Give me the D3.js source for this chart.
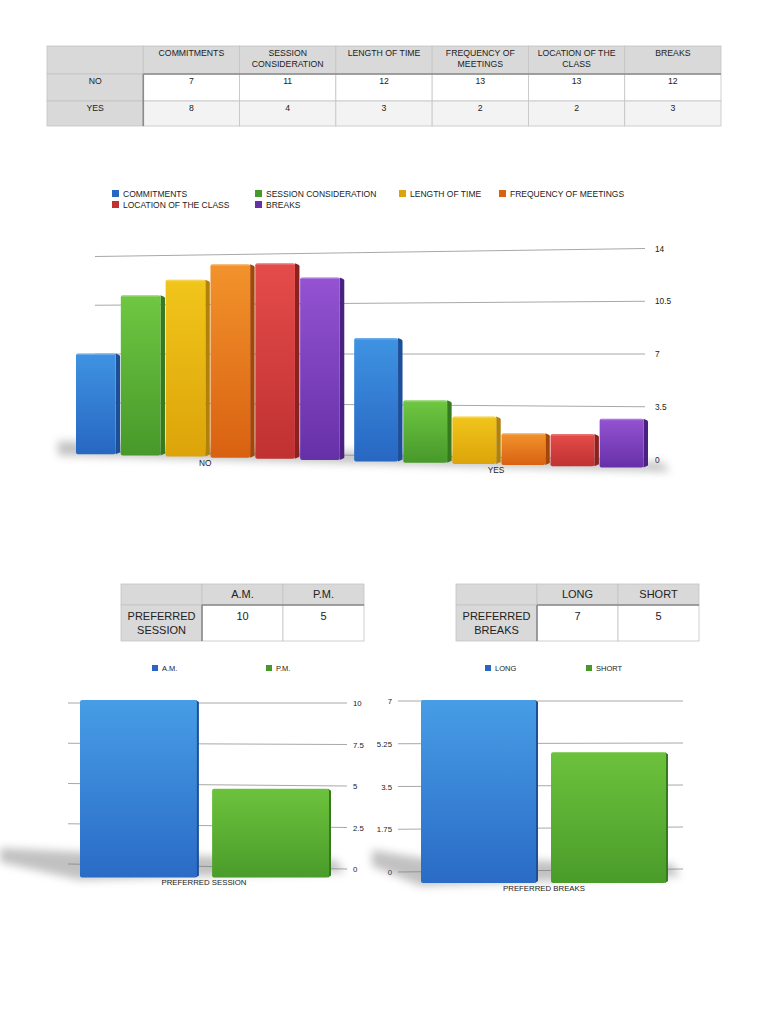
<!DOCTYPE html>
<html><head><meta charset="utf-8">
<script src="https://cdn.jsdelivr.net/npm/d3@7"></script>
<style>
body{margin:0;background:#fff}
svg{display:block}
text{font-family:"Liberation Sans",Arial,sans-serif;fill:#222}
</style>
</head><body>
<svg id="c" width="768" height="1024"></svg>
<script>
// ---------------- DATA ----------------
const groups = ["NO", "YES"];
const series = ["COMMITMENTS", "SESSION CONSIDERATION", "LENGTH OF TIME", "FREQUENCY OF MEETINGS", "LOCATION OF THE CLASS", "BREAKS"];
const tableHeaderLines = [["COMMITMENTS"], ["SESSION", "CONSIDERATION"], ["LENGTH OF TIME"], ["FREQUENCY OF", "MEETINGS"], ["LOCATION OF THE", "CLASS"], ["BREAKS"]];
const noValues = [7, 11, 12, 13, 13, 12];
const yesValues = [8, 4, 3, 2, 2, 3];
const mainTicks = [0, 3.5, 7, 10.5, 14];

const sessionCats = ["A.M.", "P.M."];
const sessionValues = [10, 5];
const sessionTicks = [0, 2.5, 5, 7.5, 10];
const sessionRowLabel = ["PREFERRED", "SESSION"];
const sessionAxisLabel = "PREFERRED SESSION";

const breakCats = ["LONG", "SHORT"];
const breakValues = [7, 5];
const breakTicks = [0, 1.75, 3.5, 5.25, 7];
const breakRowLabel = ["PREFERRED", "BREAKS"];
const breakAxisLabel = "PREFERRED BREAKS";

// ---------------- STYLE ----------------
const palette = [
  {top: "#3f93e2", bot: "#2767c2", side: "#1d4f98"},
  {top: "#6fc742", bot: "#47992a", side: "#357a1e"},
  {top: "#f1c51b", bot: "#dca40a", side: "#b08207"},
  {top: "#f2932c", bot: "#d96111", side: "#a4460a"},
  {top: "#e44c4a", bot: "#c03131", side: "#8c2121"},
  {top: "#9453d2", bot: "#6630a8", side: "#4a2180"}
];

const svg = d3.select("#c");
const defs = svg.append("defs");
palette.forEach((p, i) => {
  const g = defs.append("linearGradient").attr("id", "g" + i)
    .attr("x1", 0).attr("y1", 0).attr("x2", 0).attr("y2", 1);
  g.append("stop").attr("offset", "0%").attr("stop-color", p.top);
  g.append("stop").attr("offset", "100%").attr("stop-color", p.bot);
});
defs.append("filter").attr("id", "blur").attr("x", "-20%").attr("y", "-200%").attr("width", "140%").attr("height", "500%")
  .append("feGaussianBlur").attr("stdDeviation", 4);

// ---------------- TOP TABLE ----------------
(function () {
  const colX = d3.scaleBand().domain(d3.range(7)).range([47, 721]);
  const rowsY = [46, 74, 101, 126];
  const t = svg.append("g");
  for (let r = 0; r < 3; r++) {
    for (let c = 0; c < 7; c++) {
      let fill = "#ffffff";
      if (r === 0 || c === 0) fill = "#d9d9d9";
      else if (r === 2) fill = "#f3f3f3";
      t.append("rect").attr("x", colX(c)).attr("y", rowsY[r])
        .attr("width", colX.bandwidth()).attr("height", rowsY[r + 1] - rowsY[r])
        .attr("fill", fill).attr("stroke", "#c4c4c4").attr("stroke-width", 0.8);
    }
  }
  t.append("line").attr("x1", colX(1)).attr("x2", 721).attr("y1", 74).attr("y2", 74).attr("stroke", "#8a8a8a").attr("stroke-width", 1.6);
  t.append("line").attr("x1", colX(1)).attr("x2", colX(1)).attr("y1", 74).attr("y2", 126).attr("stroke", "#8a8a8a").attr("stroke-width", 1.6);
  tableHeaderLines.forEach((lines, i) => {
    lines.forEach((ln, j) => {
      t.append("text").attr("x", colX(i + 1) + colX.bandwidth() / 2).attr("y", 56 + j * 11)
        .attr("text-anchor", "middle").attr("font-size", 8.7).text(ln);
    });
  });
  [["NO", noValues], ["YES", yesValues]].forEach(([lab, vals], r) => {
    const y = r === 0 ? 84 : 111;
    t.append("text").attr("x", colX(0) + colX.bandwidth() / 2).attr("y", y).attr("text-anchor", "middle").attr("font-size", 8.7).text(lab);
    vals.forEach((v, i) => {
      t.append("text").attr("x", colX(i + 1) + colX.bandwidth() / 2).attr("y", y)
        .attr("text-anchor", "middle").attr("font-size", 8.7).text(v);
    });
  });
})();

// ---------------- MAIN LEGEND ----------------
(function () {
  const legCols = [112, 255, 399, 499];
  const lg = svg.append("g").selectAll("g").data(series).join("g")
    .attr("transform", (d, i) => `translate(${legCols[i % 4]},${i < 4 ? 190 : 201})`);
  lg.append("rect").attr("width", 7).attr("height", 7).attr("fill", (d, i) => palette[i].bot);
  lg.append("text").attr("x", 11).attr("y", 7).attr("font-size", 8.5).text(d => d);
})();

// ---------------- MAIN CHART ----------------
(function () {
  const g = svg.append("g");
  const gridL = d3.scaleLinear().domain([0, 14]).range([451.5, 256.5]);
  const gridR = d3.scaleLinear().domain([0, 14]).range([459.5, 248.5]);
  g.selectAll("line.grid").data(mainTicks).join("line").attr("class", "grid")
    .attr("x1", 95).attr("x2", 645)
    .attr("y1", d => gridL(d)).attr("y2", d => gridR(d))
    .attr("stroke", "#a8a8a8").attr("stroke-width", 1);
  g.selectAll("text.tick").data(mainTicks).join("text").attr("class", "tick")
    .attr("x", 655).attr("y", d => gridR(d) + 3)
    .attr("font-size", 8.3).attr("fill", "#333").text(d => d);

  const xBand = d3.scaleBand().domain(groups).range([0, 1]).paddingInner(0.034);
  const xSub = d3.scaleBand().domain(series).range([0, xBand.bandwidth()]).paddingInner(0.015);
  const xPersp = d3.scaleLinear().domain([0, 0.5, 1]).range([76, 349, 648]);
  const kBar = d3.scaleLinear().domain([97, 624]).range([14.4, 16.3]);
  const center = 353.5;
  const yAt = x => {
    const k = kBar(x);
    return d3.scaleLinear().domain([0, 14]).range([center + 7 * k, center - 7 * k]);
  };

  const data = [];
  groups.forEach(gr => {
    const vals = gr === "NO" ? noValues : yesValues;
    series.forEach((s, i) => data.push({group: gr, series: s, i, value: vals[i]}));
  });

  const sx0 = 58, sx1 = 662;
  g.append("polygon")
    .attr("points", [[sx0, yAt(sx0)(0) - 12], [sx1, yAt(sx1)(0) - 6], [sx1 + 8, yAt(sx1)(0) + 3], [sx0, yAt(sx0)(0) + 2]].map(p => p.join(",")).join(" "))
    .attr("fill", "#777").attr("opacity", 0.45).attr("filter", "url(#blur)");

  const bars = g.selectAll("g.bar").data(data).join("g").attr("class", "bar");
  bars.each(function (d) {
    const u0 = xBand(d.group) + xSub(d.series);
    const xl = xPersp(u0), xr = xPersp(u0 + xSub.bandwidth());
    const ys = yAt((xl + xr) / 2);
    const top = ys(d.value), bot = ys(0);
    const sel = d3.select(this);
    const sw = 4.5;
    sel.append("path")
      .attr("d", `M${xr - sw},${top} L${xr - 1},${top + 1.5} Q${xr},${top + 2} ${xr},${top + 3} L${xr},${bot - 2} L${xr - sw},${bot}Z`)
      .attr("fill", palette[d.i].side);
    sel.append("rect").attr("x", xl).attr("y", top).attr("width", xr - xl - sw).attr("height", bot - top)
      .attr("rx", 2).attr("fill", `url(#g${d.i})`);
    sel.append("rect").attr("x", xl + 1).attr("y", top).attr("width", xr - xl - sw - 2).attr("height", 1.5)
      .attr("fill", "#fff").attr("opacity", 0.25);
  });

  g.selectAll("text.cat").data(groups).join("text").attr("class", "cat")
    .attr("x", d => xPersp(xBand(d) + xBand.bandwidth() / 2) - 5)
    .attr("y", d => yAt(xPersp(xBand(d) + xBand.bandwidth() / 2))(0) + 9)
    .attr("text-anchor", "middle").attr("font-size", 8.3).attr("fill", "#333").text(d => d);
})();

// ---------------- SMALL TABLES ----------------
function smallTable(cfg) {
  const t = svg.append("g");
  const cols = d3.scaleBand().domain(d3.range(3)).range([cfg.x0, cfg.x1]);
  const rowsY = [584, 605, 641];
  for (let r = 0; r < 2; r++) {
    for (let c = 0; c < 3; c++) {
      const fill = (r === 0 || c === 0) ? "#d9d9d9" : "#ffffff";
      t.append("rect").attr("x", cols(c)).attr("y", rowsY[r]).attr("width", cols.bandwidth())
        .attr("height", rowsY[r + 1] - rowsY[r]).attr("fill", fill).attr("stroke", "#c4c4c4").attr("stroke-width", 0.8);
    }
  }
  t.append("line").attr("x1", cols(1)).attr("x2", cfg.x1).attr("y1", 605).attr("y2", 605).attr("stroke", "#8a8a8a").attr("stroke-width", 1.6);
  t.append("line").attr("x1", cols(1)).attr("x2", cols(1)).attr("y1", 605).attr("y2", 641).attr("stroke", "#8a8a8a").attr("stroke-width", 1.6);
  cfg.cats.forEach((c, i) => {
    t.append("text").attr("x", cols(i + 1) + cols.bandwidth() / 2).attr("y", 598).attr("text-anchor", "middle").attr("font-size", 11).text(c);
    t.append("text").attr("x", cols(i + 1) + cols.bandwidth() / 2).attr("y", 620).attr("text-anchor", "middle").attr("font-size", 11).text(cfg.values[i]);
  });
  cfg.rowLabel.forEach((ln, j) => {
    t.append("text").attr("x", cols(0) + cols.bandwidth() / 2).attr("y", 620 + j * 14).attr("text-anchor", "middle").attr("font-size", 11).text(ln);
  });
}
smallTable({x0: 121, x1: 364, cats: sessionCats, values: sessionValues, rowLabel: sessionRowLabel});
smallTable({x0: 456, x1: 699, cats: breakCats, values: breakValues, rowLabel: breakRowLabel});

// ---------------- SMALL CHARTS ----------------
[{top: "#479de6", bot: "#2a6bc6"}, {top: "#6cc23c", bot: "#4a9c2a"}].forEach((p, i) => {
  const gr = defs.append("linearGradient").attr("id", "sg" + i).attr("x1", 0).attr("y1", 0).attr("x2", 0).attr("y2", 1);
  gr.append("stop").attr("offset", "0%").attr("stop-color", p.top);
  gr.append("stop").attr("offset", "100%").attr("stop-color", p.bot);
});
function smallChart(cfg) {
  const g = svg.append("g");
  const lg = g.selectAll("g.lg").data(cfg.cats).join("g").attr("class", "lg")
    .attr("transform", (d, i) => `translate(${cfg.legX[i]},665)`);
  lg.append("rect").attr("width", 6).attr("height", 6).attr("fill", (d, i) => palette[i].bot);
  lg.append("text").attr("x", 10).attr("y", 6).attr("font-size", 7.5).attr("fill", "#444").text(d => d);

  const dom = [0, d3.max(cfg.ticks)];
  const gridL = d3.scaleLinear().domain(dom).range(cfg.gridL);
  const gridR = d3.scaleLinear().domain(dom).range(cfg.gridR);
  g.selectAll("line.grid").data(cfg.ticks).join("line").attr("class", "grid")
    .attr("x1", cfg.gx[0]).attr("x2", cfg.gx[1])
    .attr("y1", d => gridL(d)).attr("y2", d => gridR(d))
    .attr("stroke", "#a8a8a8").attr("stroke-width", 1);
  g.selectAll("text.tick").data(cfg.ticks).join("text").attr("class", "tick")
    .attr("x", cfg.labelX).attr("text-anchor", cfg.labelAnchor)
    .attr("y", d => (cfg.labelSide === "right" ? gridR(d) : gridL(d)) + 3)
    .attr("font-size", 7.8).attr("fill", "#333").text(d => d);

  const yb = d3.scaleLinear().domain(dom).range(cfg.barY);
  g.append("polygon")
    .attr("points", cfg.shadow.map(p => p.join(",")).join(" "))
    .attr("fill", "#777").attr("opacity", 0.45).attr("filter", "url(#blur)");

  const xb = d3.scaleBand().domain(cfg.cats).range(cfg.barX).paddingInner(0.1);
  const bars = g.selectAll("g.bar").data(cfg.cats).join("g").attr("class", "bar");
  bars.each(function (d, i) {
    const sel = d3.select(this);
    const xl = xb(d), w = xb.bandwidth();
    const top = yb(cfg.values[i]), bot = yb(0);
    sel.append("path")
      .attr("d", `M${xl + w - 3},${top} L${xl + w},${top + 2} L${xl + w},${bot - 2} L${xl + w - 3},${bot}Z`)
      .attr("fill", palette[i].side);
    sel.append("rect").attr("x", xl).attr("y", top).attr("width", w - 2).attr("height", bot - top)
      .attr("rx", 2).attr("fill", `url(#sg${i})`);
  });
  g.append("text").attr("x", cfg.axisLabelX).attr("y", cfg.axisLabelY).attr("text-anchor", "middle")
    .attr("font-size", 7.8).attr("fill", "#333").text(cfg.axisLabel);
}

smallChart({
  cats: sessionCats, values: sessionValues, ticks: sessionTicks, axisLabel: sessionAxisLabel,
  legX: [152, 266],
  gridL: [864, 703], gridR: [869, 703], gx: [68, 347],
  labelX: 353, labelAnchor: "start", labelSide: "right",
  barX: [80, 331], barY: [877.5, 700],
  shadow: [[0, 848], [80, 852], [335, 860], [345, 872], [80, 880], [0, 862]],
  axisLabelX: 204, axisLabelY: 885
});
smallChart({
  cats: breakCats, values: breakValues, ticks: breakTicks, axisLabel: breakAxisLabel,
  legX: [485, 586],
  gridL: [872, 701], gridR: [869, 701], gx: [398, 683],
  labelX: 392, labelAnchor: "end", labelSide: "left",
  barX: [421, 668], barY: [883, 700],
  shadow: [[372, 850], [421, 858], [672, 864], [680, 876], [421, 886], [372, 866]],
  axisLabelX: 544, axisLabelY: 891
});
</script>
</body></html>
